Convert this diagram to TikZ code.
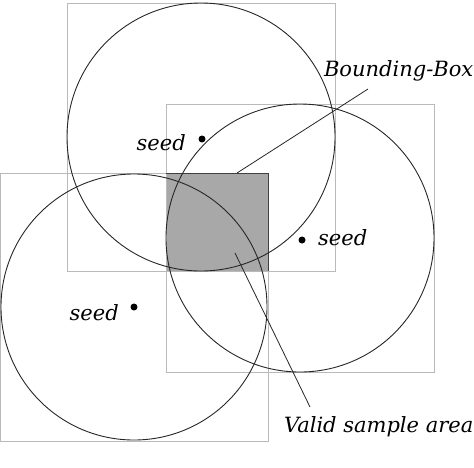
\documentclass[tikz,border=0pt]{standalone}
\usepackage{fontspec}
\setmainfont{DejaVu Serif}
\begin{document}
\begin{tikzpicture}[x=1pt,y=-1pt,
  sq/.style={draw=black!27,line width=0.9pt},
  circ/.style={draw=black!85,line width=0.9pt},
  leader/.style={draw=black!85,line width=0.8pt},
  lbl/.style={font=\itshape\fontsize{21}{24}\selectfont,inner sep=0pt},
  seeddot/.style={circle,fill=black,inner sep=0pt,minimum size=7pt}]
\useasboundingbox (0,0) rectangle (474,467);
% valid area
\fill[black!34] (166,173) rectangle (268,271);
% bounding squares
\draw[sq] (67,3) rectangle (335,271);
\draw[sq] (166,104) rectangle (434,372);
\draw[sq] (0,173) rectangle (268,441);
\draw[black!75,line width=0.9pt] (166,173) -- (268,173) -- (268,271);
% circles
\draw[circ] (201,137) circle (134);
\draw[circ] (300,238) circle (134);
\draw[circ] (134,307) circle (133);
% seeds
\node[seeddot] (s1) at (202,139) {};
\node[seeddot] (s2) at (302,240) {};
\node[seeddot] (s3) at (134,307) {};
\node[lbl,anchor=base east] (t1) at (186,150) {seed};
\node[lbl,anchor=base west] (t2) at (318,245) {seed};
\node[lbl,anchor=base east] (t3) at (119,320) {seed};
% labels
\node[lbl,anchor=base east] (bb) at (473.5,76) {Bounding-Box};
\node[lbl,anchor=base east] (va) at (473.5,432) {Valid sample area};
\coordinate (bbend) at (368,89);
\coordinate (bbstart) at (237,173);
\coordinate (vaend) at (310,407);
\coordinate (vastart) at (235,253);
\draw[leader] (bbstart) -- (bbend);
\draw[leader] (vastart) -- (vaend);
\end{tikzpicture}
\end{document}
